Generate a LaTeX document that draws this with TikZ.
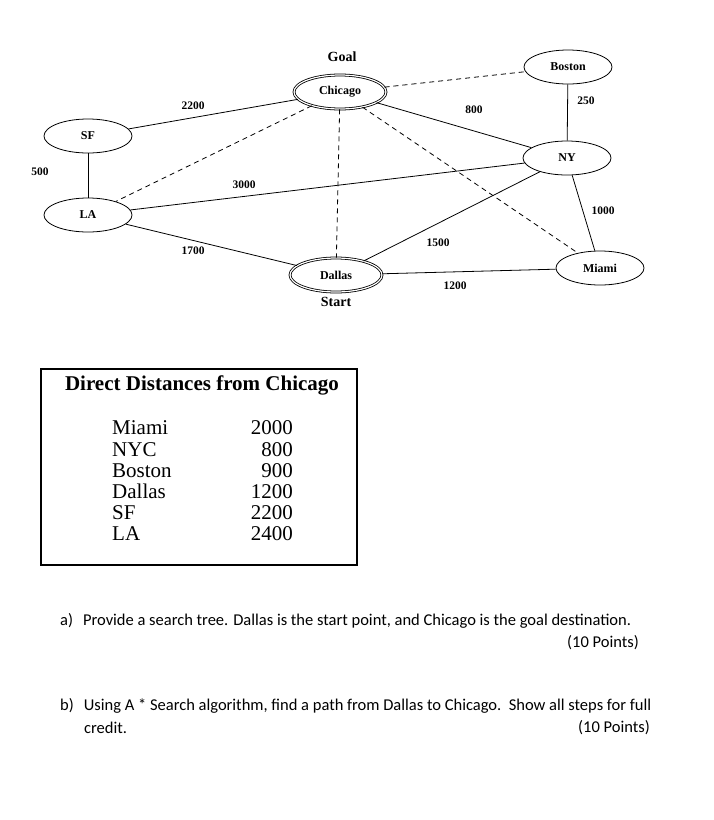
\documentclass[tikz,border=0pt]{standalone}
\usepackage{fontspec}
\setmainfont{Liberation Serif}
\newfontfamily\calfont{Carlito}
\usetikzlibrary{shapes.geometric}
\begin{document}
\begin{tikzpicture}[x=1pt,y=-1pt,
  city/.style={ellipse,draw,line width=0.8pt,minimum width=88pt,minimum height=34pt,inner sep=0pt,font=\fontsize{12}{13}\selectfont\bfseries},
  dcity/.style={city,double,double distance=1.2pt,minimum width=92pt},
  lbl/.style={font=\fontsize{11.5}{13}\selectfont\bfseries},
  edge/.style={line width=0.8pt},
  dedge/.style={line width=0.8pt,dashed,dash pattern=on 5pt off 4pt},
  row/.style={font=\fontsize{21}{22}\selectfont,inner sep=0pt},
  q/.style={font=\calfont\fontsize{16.5}{18}\selectfont,inner sep=0pt}]
\useasboundingbox (0,0) rectangle (714,820);
\node[dcity] (chi) at (340,92) {Chicago};
\node[city] (bos) at (568,67) {Boston};
\node[city] (sf) at (88,136) {SF};
\node[city] (ny) at (567,158) {NY};
\node[city] (la) at (88,215) {LA};
\node[dcity] (dal) at (336,275) {Dallas};
\node[city] (mia) at (600,268) {Miami};
\node[font=\fontsize{14}{16}\selectfont\bfseries] (goal) at (342,57) {Goal};
\node[font=\fontsize{14}{16}\selectfont\bfseries] (start) at (336,302) {Start};
\draw[edge] (sf) -- (chi);
\draw[edge] (sf) -- (la);
\draw[edge] (la) -- (ny);
\draw[edge] (la) -- (dal);
\draw[edge] (chi) -- (ny);
\draw[edge] (bos) -- (ny);
\draw[edge] (ny) -- (mia);
\draw[edge] (ny) -- (dal);
\draw[edge] (dal) -- (mia);
\draw[dedge] (chi) -- (bos);
\draw[dedge] (chi) -- (la);
\draw[dedge] (chi) -- (dal);
\draw[dedge] (chi) -- (mia);
\node[lbl] (l1) at (193,106) {2200};
\node[lbl] (l2) at (474,110) {800};
\node[lbl] (l3) at (586,101) {250};
\node[lbl] (l4) at (40,172) {500};
\node[lbl] (l5) at (244,185) {3000};
\node[lbl] (l6) at (603,211) {1000};
\node[lbl] (l7) at (438,243) {1500};
\node[lbl] (l8) at (193,251) {1700};
\node[lbl] (l9) at (455,286) {1200};
\draw[line width=1.4pt] (41,369) rectangle (357,565);
\node[font=\fontsize{21}{23}\selectfont\bfseries] (title) at (202,385) {Direct Distances from Chicago};
\foreach \n/\v [count=\i] in {Miami/2000,NYC/800,Boston/900,Dallas/1200,SF/2200,LA/2400}{
  \node[row,anchor=west] (n\i) at (112,{428+21.2*(\i-1)}) {\n};
  \node[row,anchor=east] (v\i) at (293,{428+21.2*(\i-1)}) {\v};
}
\node[q,anchor=west] (qa) at (60,621) {a)\hspace{10pt}Provide a search tree. Dallas is the start point, and Chicago is the goal destination.};
\node[q,anchor=east] (pa) at (639,643) {(10 Points)};
\node[q,anchor=west] (qb) at (60,706) {b)\hspace{10pt}Using A * Search algorithm, find a path from Dallas to Chicago.\ \ Show all steps for full};
\node[q,anchor=west] (qc) at (84,728) {credit.};
\node[q,anchor=east] (pb) at (650,728) {(10 Points)};
\end{tikzpicture}
\end{document}
